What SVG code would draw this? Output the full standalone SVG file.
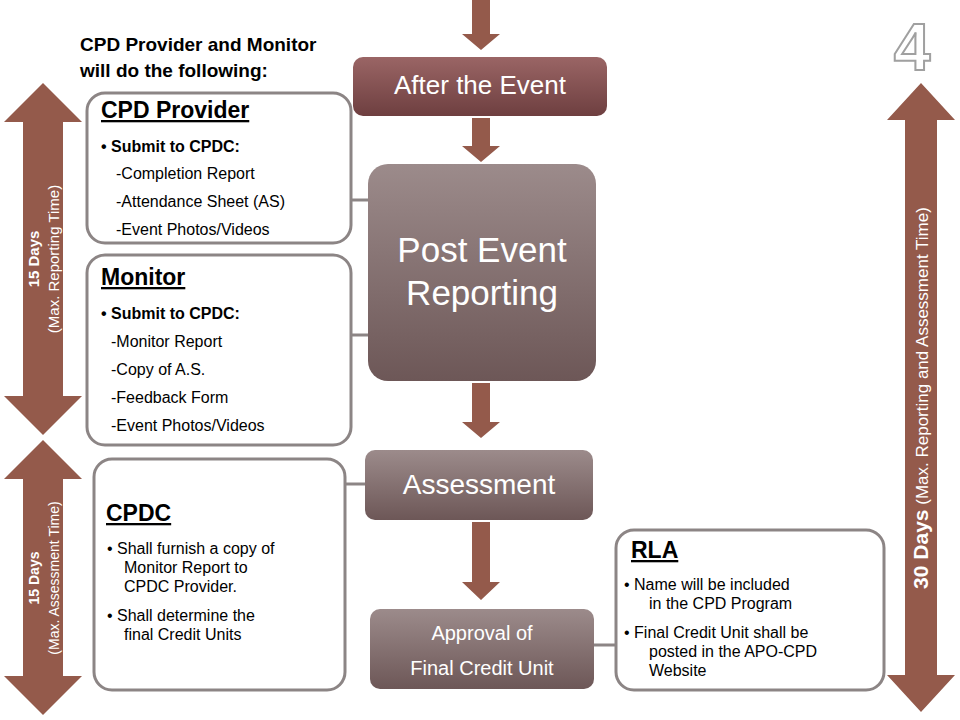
<svg xmlns="http://www.w3.org/2000/svg" width="960" height="720" viewBox="0 0 960 720">
<defs>
<linearGradient id="gA" x1="0" y1="0" x2="0" y2="1"><stop offset="0" stop-color="#9a6565"/><stop offset="1" stop-color="#6e3f40"/></linearGradient>
<linearGradient id="gB" x1="0" y1="0" x2="0" y2="1"><stop offset="0" stop-color="#9c8b8b"/><stop offset="1" stop-color="#6d5757"/></linearGradient>
<style>
.arr{fill:#945a4b}
.box{fill:#fff;stroke:#8c8585;stroke-width:3}
.con{stroke:#8c8585;stroke-width:3;fill:none}
.t{font-family:"Liberation Sans",sans-serif;fill:#000}
.w{font-family:"Liberation Sans",sans-serif;fill:#fff;text-anchor:middle}
.h{font-weight:bold;text-decoration:underline;font-size:23px}
.s{font-size:16px}
.b{font-size:16px;font-weight:bold}
.side{font-family:"Liberation Sans",sans-serif;fill:#fff;text-anchor:middle}
</style>
</defs>
<rect width="960" height="720" fill="#fff"/>
<g id="connectors">
<line class="con" x1="351" y1="200" x2="370" y2="200"/>
<line class="con" x1="351" y1="335" x2="370" y2="335"/>
<line class="con" x1="345" y1="484" x2="367" y2="484"/>
<line class="con" x1="594" y1="645" x2="617" y2="645"/>
<polygon class="arr" points="472,0 490,0 490,34 500,34 481,50 462,34 472,34"/>
<polygon class="arr" points="472,118 490,118 490,146 500,146 481,162 462,146 472,146"/>
<polygon class="arr" points="472,383 490,383 490,422 500,422 481,438 462,422 472,422"/>
<polygon class="arr" points="472,522 490,522 490,582 500,582 481,600 462,582 472,582"/>
</g>
<g id="title"><text class="t" x="80" y="51" font-size="19" font-weight="bold">CPD Provider and Monitor</text><text class="t" x="80" y="77" font-size="19" font-weight="bold">will do the following:</text></g>
<g id="num"><text x="912" y="70" font-family="Liberation Sans,sans-serif" font-size="66" font-weight="bold" fill="#fff" stroke="#a0a0a0" stroke-width="2" text-anchor="middle">4</text></g>
<g id="after"><rect x="353" y="57" width="254" height="59" rx="10" fill="url(#gA)"/><text class="w" x="480" y="94" font-size="26">After the Event</text></g>
<g id="post"><rect x="368" y="164" width="228" height="217" rx="20" fill="url(#gB)"/><text class="w" x="482" y="262" font-size="35">Post Event</text><text class="w" x="482" y="305" font-size="35">Reporting</text></g>
<g id="assess"><rect x="365" y="450" width="228" height="70" rx="10" fill="url(#gB)"/><text class="w" x="479" y="494" font-size="28">Assessment</text></g>
<g id="approval"><rect x="370" y="609" width="224" height="80" rx="10" fill="url(#gB)"/><text class="w" x="482" y="640" font-size="20">Approval of</text><text class="w" x="482" y="675" font-size="20">Final Credit Unit</text></g>
<g id="provider"><rect class="box" x="87" y="93" width="264" height="150" rx="18"/>
<text class="t h" x="101" y="118">CPD Provider</text>
<text class="t b" x="101" y="152">•  Submit to CPDC:</text>
<text class="t s" x="116" y="179">-Completion Report</text>
<text class="t s" x="116" y="207">-Attendance Sheet (AS)</text>
<text class="t s" x="116" y="235">-Event Photos/Videos</text></g>
<g id="monitor"><rect class="box" x="87" y="255" width="264" height="190" rx="18"/>
<text class="t h" x="101" y="285">Monitor</text>
<text class="t b" x="101" y="319">•  Submit to CPDC:</text>
<text class="t s" x="111" y="347">-Monitor Report</text>
<text class="t s" x="111" y="375">-Copy of A.S.</text>
<text class="t s" x="111" y="403">-Feedback Form</text>
<text class="t s" x="111" y="431">-Event Photos/Videos</text></g>
<g id="cpdc"><rect class="box" x="94" y="459" width="251" height="231" rx="18"/>
<text class="t h" x="106" y="521">CPDC</text>
<text class="t s" x="107" y="554">•  Shall furnish a copy of</text>
<text class="t s" x="124" y="573">Monitor Report to</text>
<text class="t s" x="124" y="592">CPDC Provider.</text>
<text class="t s" x="107" y="621">•  Shall determine the</text>
<text class="t s" x="124" y="640">final Credit Units</text></g>
<g id="rla"><rect class="box" x="616" y="530" width="268" height="160" rx="18"/>
<text class="t h" x="631" y="558">RLA</text>
<text class="t s" x="624" y="590">•  Name will be included</text>
<text class="t s" x="649" y="609">in the CPD Program</text>
<text class="t s" x="624" y="638">•  Final Credit Unit shall be</text>
<text class="t s" x="649" y="657">posted in the APO-CPD</text>
<text class="t s" x="649" y="676">Website</text></g>
<g id="left1"><polygon class="arr" points="43,83 82,122 63,122 63,396 82,396 43,435 4,396 23,396 23,122 4,122"/>
<text class="side" transform="translate(43,259) rotate(-90)" font-size="15"><tspan x="0" y="-4" font-weight="bold">15 Days</tspan><tspan x="0" y="16">(Max. Reporting Time)</tspan></text></g>
<g id="left2"><polygon class="arr" points="43,440 82,479 63,479 63,676 82,676 43,715 4,676 23,676 23,479 4,479"/>
<text class="side" transform="translate(43,578) rotate(-90)" font-size="14"><tspan x="0" y="-4" font-weight="bold">15 Days</tspan><tspan x="0" y="16">(Max. Assessment Time)</tspan></text></g>
<g id="right"><polygon class="arr" points="921,83 955,120 937,120 937,675 955,675 921,712 887,675 905,675 905,120 887,120"/>
<text class="side" transform="translate(928,398) rotate(-90)" font-size="17"><tspan font-weight="bold" font-size="21">30 Days</tspan><tspan> (Max. Reporting and Assessment Time)</tspan></text></g>
</svg>
